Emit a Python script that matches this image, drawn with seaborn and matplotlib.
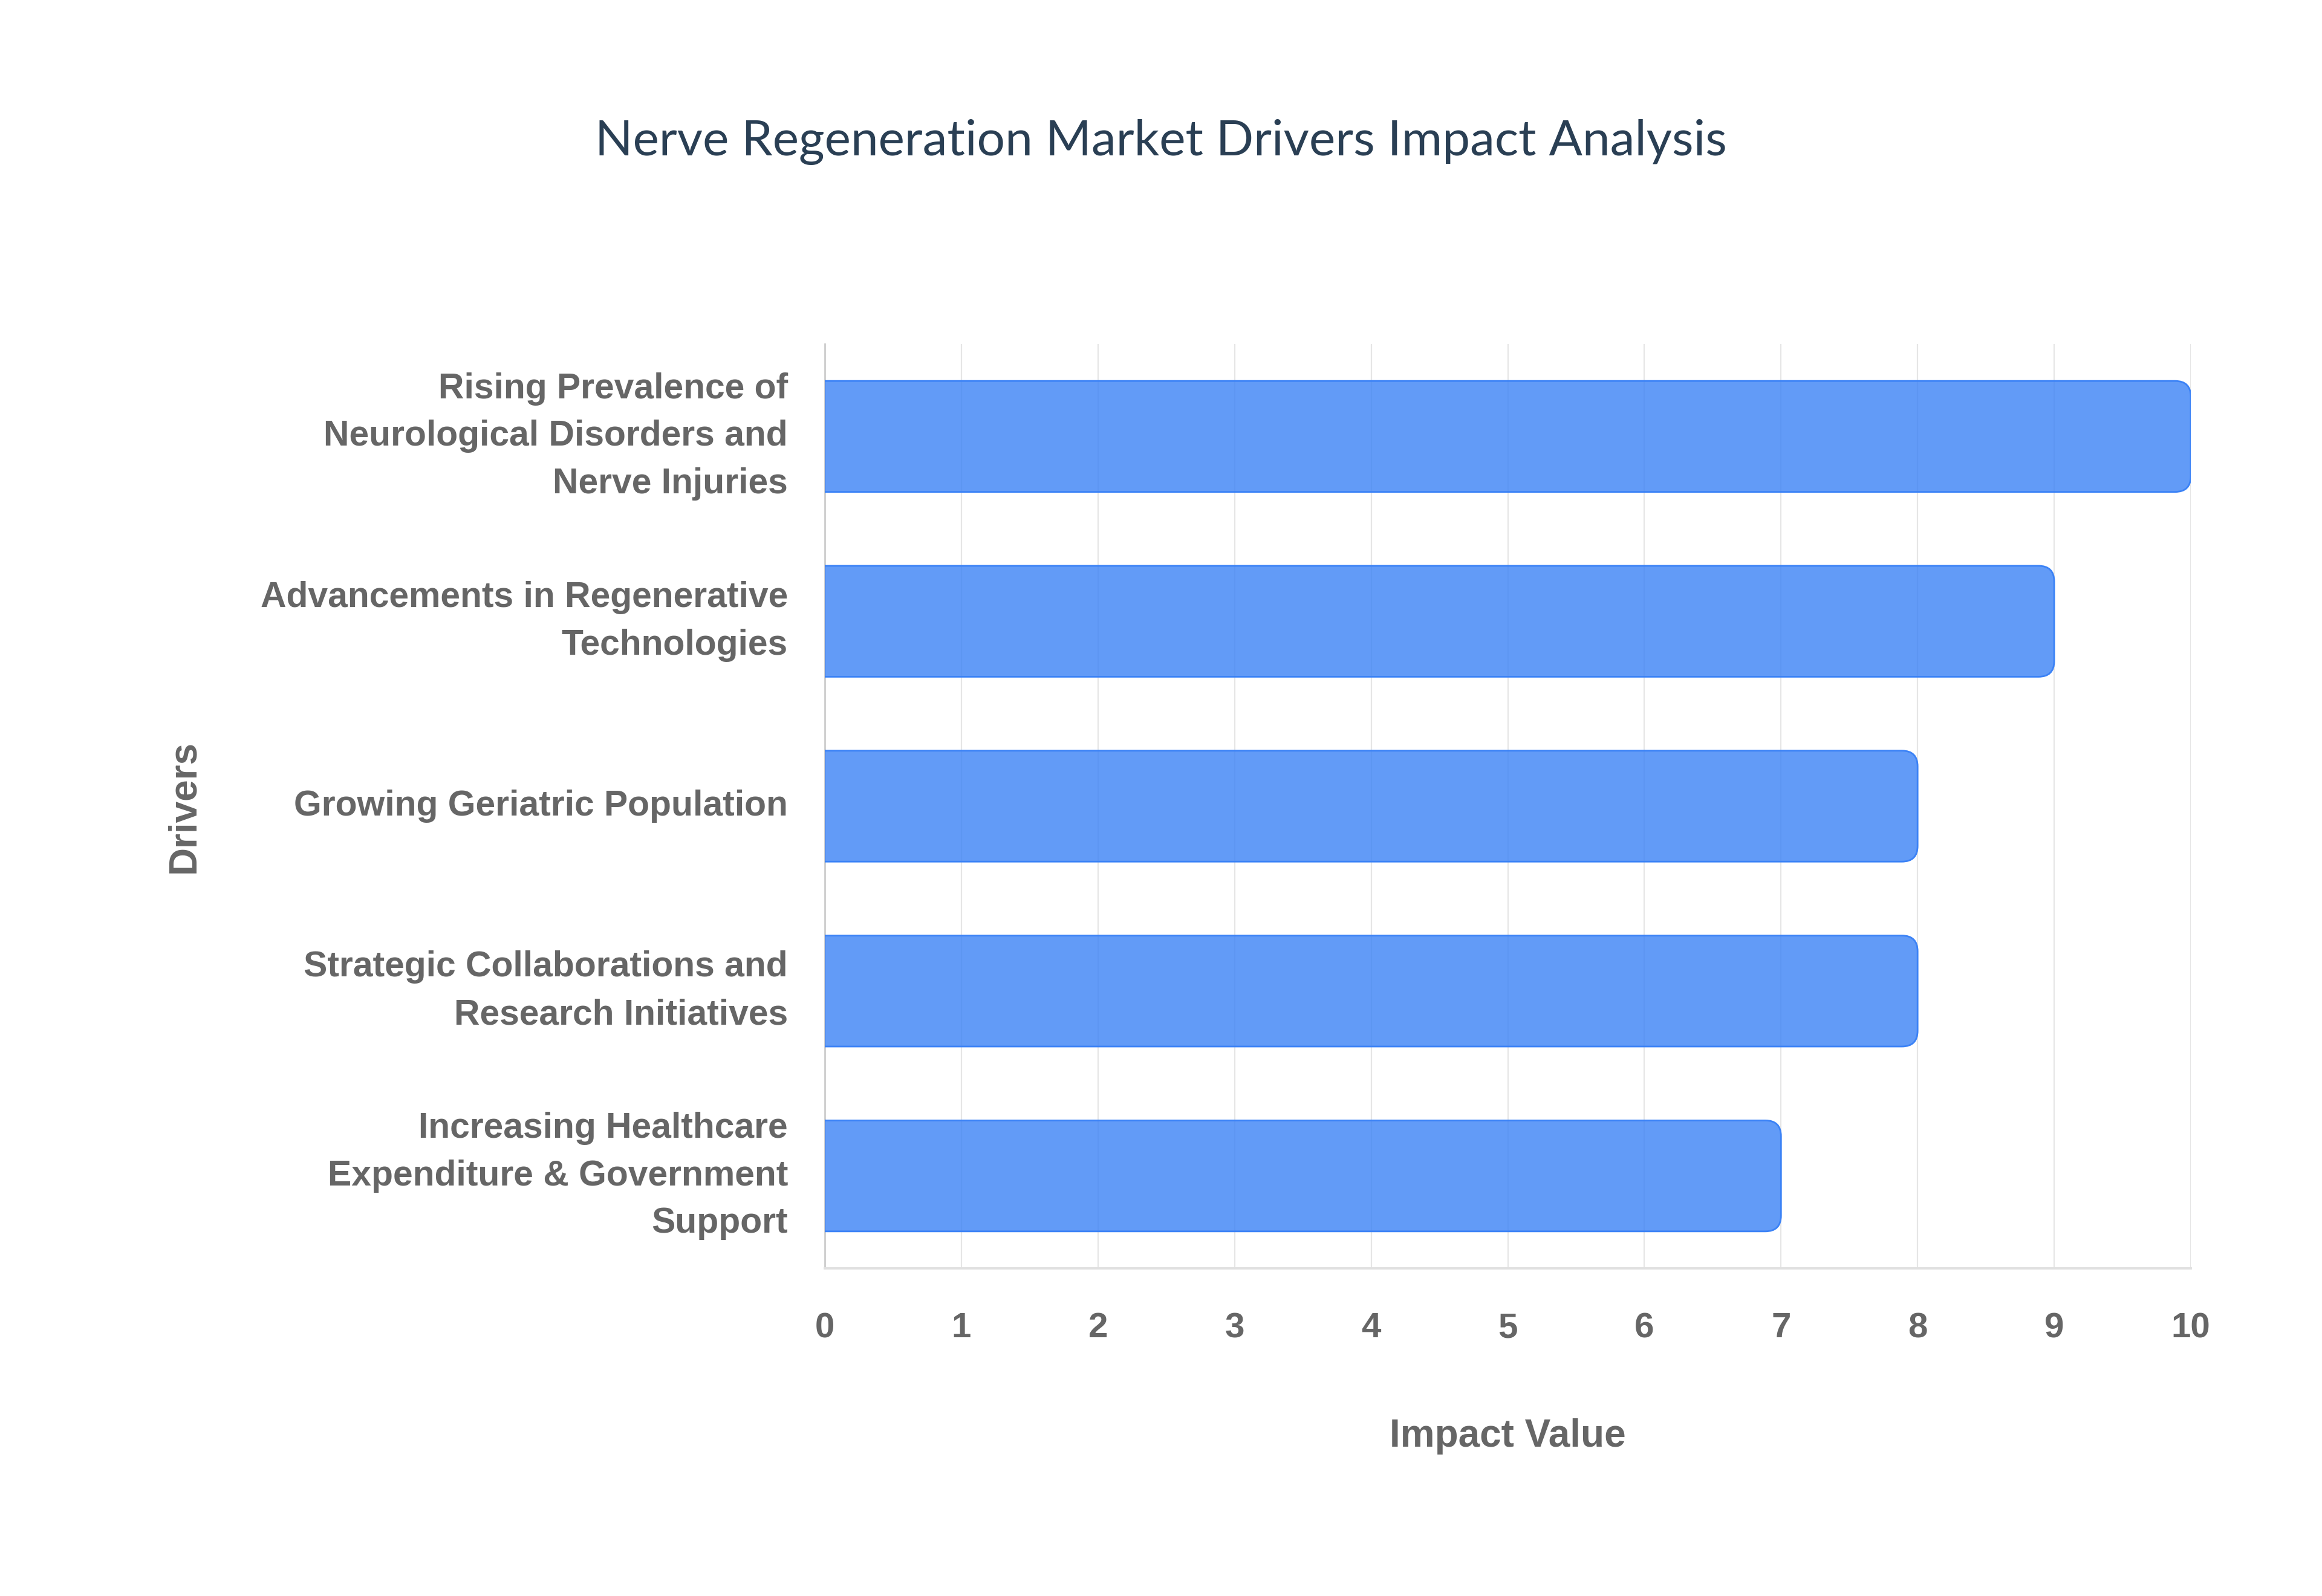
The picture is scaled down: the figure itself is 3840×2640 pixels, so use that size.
import matplotlib
matplotlib.use("Agg")
import matplotlib.pyplot as plt
import pandas as pd
import seaborn as sns
from matplotlib.patches import FancyBboxPatch

# === Data ===
drivers = [
    "Rising Prevalence of\nNeurological Disorders and\nNerve Injuries",
    "Advancements in Regenerative\nTechnologies",
    "Growing Geriatric Population",
    "Strategic Collaborations and\nResearch Initiatives",
    "Increasing Healthcare\nExpenditure & Government\nSupport",
]
impact = [10, 9, 8, 8, 7]
x_ticks = [0, 1, 2, 3, 4, 5, 6, 7, 8, 9, 10]

title = "Nerve Regeneration Market Drivers Impact Analysis"
bar_color = "#3B82F6"
text_grey = "#666666"

sns.set_theme(style="white")
plt.rcParams["font.family"] = ["Liberation Sans", "DejaVu Sans"]

W, H, DPI = 3840, 2640, 200
fig = plt.figure(figsize=(W / DPI, H / DPI), dpi=DPI)
fig.patch.set_facecolor("white")

# axes placement in pixels
left_px, right_px = 1364, 3623
top_px, bottom_px = 569, 2098
ax = fig.add_axes([left_px / W, 1 - bottom_px / H,
                   (right_px - left_px) / W, (bottom_px - top_px) / H])

df = pd.DataFrame({"driver": drivers, "impact": impact})
sns.barplot(data=df, x="impact", y="driver", orient="h", color=bar_color,
            saturation=1, width=0.6, ax=ax)

ax.set_xlim(0, 10)
ax.set_ylim(len(drivers) - 0.5, -0.5)

# === Rounded bar ends (same geometry as seaborn's bars) ===
px_per_x = (right_px - left_px) / 10
px_per_y = (bottom_px - top_px) / len(drivers)
r = 26 / px_per_x
for p in list(ax.patches):
    x, y, w, h = p.get_x(), p.get_y(), p.get_width(), p.get_height()
    p.remove()
    fb = FancyBboxPatch((x - 2 * r, y), w + 2 * r, h,
                        boxstyle=f"round,pad=0,rounding_size={r}",
                        mutation_aspect=px_per_x / px_per_y,
                        facecolor=(0.231, 0.510, 0.965, 0.8),
                        edgecolor=bar_color, linewidth=1.0, zorder=2)
    ax.add_patch(fb)

# === Grid & spines ===
ax.set_axisbelow(True)
ax.grid(axis="x", color="#e6e6e6", linewidth=0.8)
ax.grid(axis="y", visible=False)
for side in ["top", "right"]:
    ax.spines[side].set_visible(False)
ax.spines["left"].set_color("#cccccc")
ax.spines["left"].set_linewidth(1.0)
ax.spines["left"].set_zorder(0.6)
ax.spines["bottom"].set_color("#e0e0e0")
ax.spines["bottom"].set_linewidth(1.4)

ax.set_xticks(x_ticks)
ax.tick_params(axis="x", direction="out", length=10, width=0.8,
               color="#e6e6e6", pad=16, labelsize=21, labelcolor=text_grey)
ax.tick_params(axis="y", length=0, pad=22, labelsize=21.2, labelcolor=text_grey)
for lab in ax.get_xticklabels() + ax.get_yticklabels():
    lab.set_fontweight("bold")
for lab in ax.get_yticklabels():
    lab.set_linespacing(1.55)
    lab.set_verticalalignment("center")

# === Labels ===
ax.set_xlabel("Impact Value", fontsize=23, fontweight="bold", color=text_grey,
              va="center")
ax.xaxis.set_label_coords(0.5, -0.1815)
ax.set_ylabel("Drivers", fontsize=23, fontweight="bold", color=text_grey,
              va="center")
ax.yaxis.set_label_coords(-0.469, 0.5)

fig.text(0.5, 0.911, title, ha="center", va="center", fontsize=29.5,
         color="#2a3f54", family=["Lato", "DejaVu Sans"])

fig.savefig("out.png", dpi=DPI, facecolor="white")
